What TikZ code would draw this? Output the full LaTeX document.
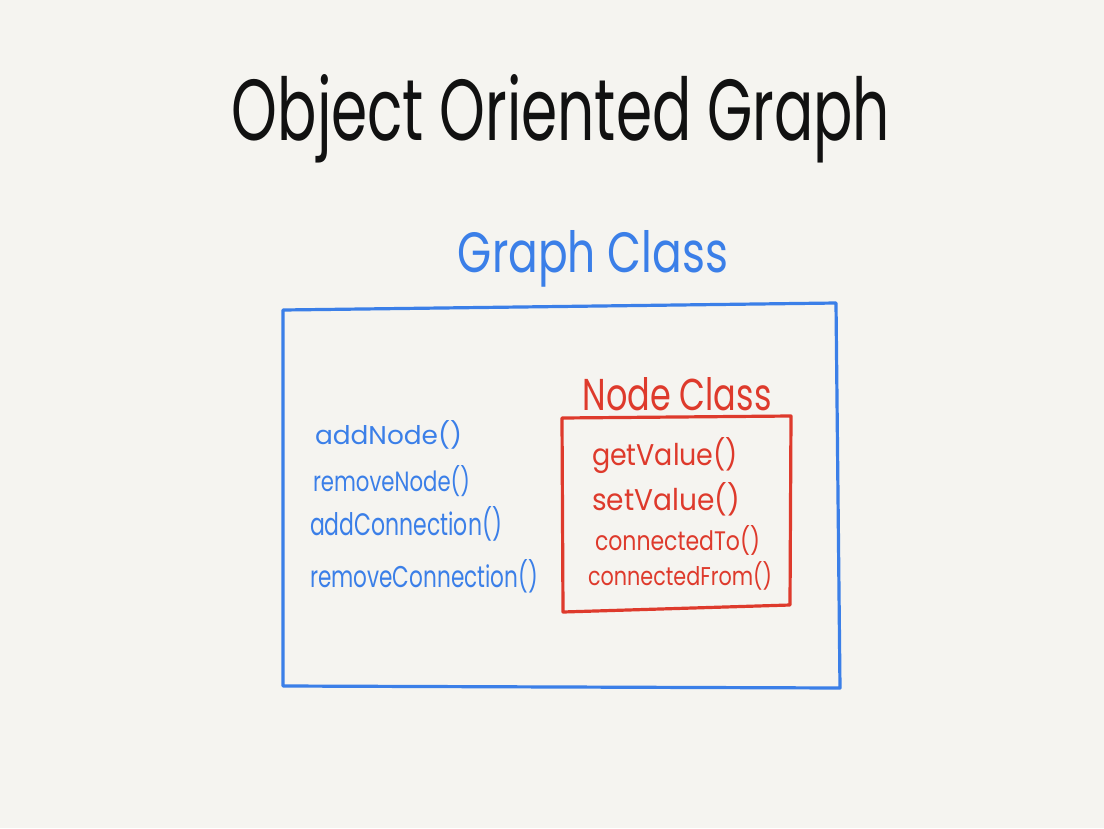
\documentclass[tikz,border=0pt]{standalone}
\usepackage{fontspec}
\setmainfont{Poppins}
\definecolor{bg}{HTML}{F5F4F0}
\definecolor{penblue}{HTML}{3B7FE8}
\definecolor{penred}{HTML}{DE3A2C}
\definecolor{penblack}{HTML}{111111}
\newcommand{\fittext}[3]{\resizebox{#1pt}{#2pt}{#3}}
\tikzset{
  lbl/.style={inner sep=0pt, outer sep=0pt},
  bluebox/.style={draw=penblue, line width=3.2pt, line join=round},
  redbox/.style={draw=penred, line width=3.2pt, line join=round},
}
\begin{document}
\begin{tikzpicture}[x=1pt,y=-1pt]
  \fill[bg] (0,0) rectangle (1104,828);
  \useasboundingbox (0,0) rectangle (1104,828);
  % title
  \node[lbl, anchor=base, text=penblack] (title) at (561,140) {\fittext{658}{66}{Object Oriented Graph}};
  \node[lbl, anchor=base, text=penblue] (gclass) at (593,272) {\fittext{270}{42}{Graph Class}};
  % graph class box
  \coordinate (g1) at (283,310);
  \coordinate (g2) at (836,303);
  \coordinate (g3) at (840,688);
  \coordinate (g4) at (283,686);
  \draw[bluebox] (g1) -- (g2) -- (g3) -- (g4) -- cycle;
  % blue methods
  \node[lbl, anchor=base west, text=penblue] (m1) at (315,444) {\fittext{147}{24}{addNode()}};
  \node[lbl, anchor=base west, text=penblue] (m2) at (313,491) {\fittext{157}{26}{removeNode()}};
  \node[lbl, anchor=base west, text=penblue] (m3) at (310,535) {\fittext{192}{29}{addConnection()}};
  \node[lbl, anchor=base west, text=penblue] (m4) at (310,587) {\fittext{228}{28}{removeConnection()}};
  % node class
  \node[lbl, anchor=base, text=penred] (nclass) at (677,410) {\fittext{189}{33}{Node Class}};
  \coordinate (n1) at (562,418);
  \coordinate (n2) at (791,416);
  \coordinate (n3) at (790,605);
  \coordinate (n4) at (563,612);
  \draw[redbox] (n1) -- (n2) -- (n3) -- (n4) -- cycle;
  \node[lbl, anchor=base west, text=penred] (r1) at (592,465) {\fittext{146}{28}{getValue()}};
  \node[lbl, anchor=base west, text=penred] (r2) at (592,510) {\fittext{148}{28}{setValue()}};
  \node[lbl, anchor=base west, text=penred] (r3) at (595,550) {\fittext{165}{25}{connectedTo()}};
  \node[lbl, anchor=base west, text=penred] (r4) at (588,585) {\fittext{184}{24}{connectedFrom()}};
\end{tikzpicture}
\end{document}
